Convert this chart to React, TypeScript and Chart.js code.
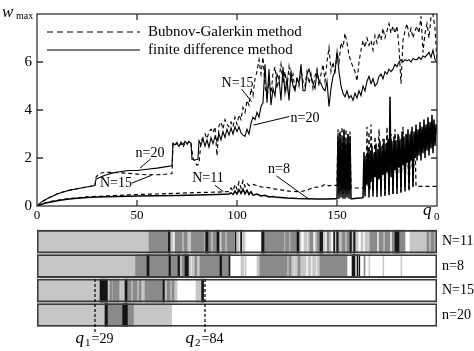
import React, { useEffect, useRef } from 'react';
import { Chart, registerables } from 'chart.js';

Chart.register(...registerables);

const SERIF = "'Liberation Serif', 'Times New Roman', Times, serif";

// ---------- main plot data ----------
const xTicks = [0, 50, 100, 150];
const yTicks = [0, 2, 4, 6];
const legendItems = ['Bubnov-Galerkin method', 'finite difference method'];

// Bubnov-Galerkin, N=15 (dashed)
const seriesN15 = [[0,0],[2,0.15],[5,0.3],[8,0.42],[10,0.5],[13,0.58],[16,0.65],[20,0.72],[24,0.78],[27,0.82],[29,0.85],[29.5,1.2],[31,1.35],[34,1.4],[38,1.4],[42,1.38],[46,1.36],[50,1.33],[55,1.3],[60,1.3],[64,1.32],[67.5,1.35],[68,2.6],[69,2.55],[70,2.65],[71,2.5],[72,2.6],[73,2.45],[74,2.62],[75,2.55],[76,2.7],[77,2.6],[78,2.0],[79,1.8],[80,1.7],[81,1.75],[82,2.7],[83,2.85],[84,3.0],[85,2.8],[86,3.1],[87,3.2],[88,3.05],[89,3.3],[90,2.1],[91,3.35],[92,3.5],[93,3.2],[94,3.6],[95,3.4],[96,3.3],[97,3.5],[98,3.3],[99,3.7],[100,3.4],[101,3.8],[102,3.6],[103,4.1],[104,3.9],[105,4.4],[106,4.2],[107,4.9],[108,4.6],[109,5.3],[110,5.6],[111,6.1],[112,5.5],[113,6.2],[114,5.0],[115,4.5],[116,5.2],[117,4.7],[118,5.5],[119,5.8],[120,4.9],[121,5.3],[122,5.9],[123,5.1],[124,5.6],[125,4.9],[126,5.8],[127,5.2],[128,5.5],[129,4.8],[130,5.4],[131,5.0],[132,5.7],[133,5.2],[134,5.0],[135,5.6],[136,5.1],[137,5.5],[138,4.9],[139,5.4],[140,5.7],[141,5.0],[142,5.5],[143,5.9],[144,5.2],[145,6.0],[146,6.6],[147,5.6],[148,6.0],[149,5.5],[150,6.4],[151,6.0],[152,6.8],[153,6.6],[154,7.2],[155,6.8],[156,6.3],[157,6.0],[158,5.8],[159,5.6],[160,5.2],[161,6.0],[162,6.5],[163,6.9],[164,6.6],[165,7.0],[166,6.7],[167,6.9],[168,6.5],[169,7.1],[170,6.8],[171,7.2],[172,6.9],[173,7.4],[174,7.0],[175,7.3],[176,7.6],[177,7.2],[178,7.5],[179,7.2],[180,7.5],[181,6.6],[182,5.1],[183,6.9],[184,7.3],[185,7.6],[186,7.1],[187,7.4],[188,7.0],[189,7.3],[190,7.5],[191,7.2],[192,7.9],[193,6.4],[194,7.2],[195,7.6],[196,7.0],[197,7.9],[198,8.0],[199,7.4],[200,6.0]];

// finite difference, n=20 (solid)
const seriesn20 = [[0,0],[2,0.15],[5,0.3],[8,0.42],[10,0.5],[13,0.58],[16,0.65],[20,0.72],[24,0.78],[27,0.82],[29,0.85],[29.5,1.12],[31,1.18],[34,1.28],[38,1.38],[42,1.44],[46,1.48],[50,1.48],[55,1.53],[60,1.58],[64,1.63],[67.5,1.68],[68,2.62],[69,2.55],[70,2.6],[71,2.48],[72,2.66],[73,2.55],[74,2.7],[75,2.6],[76,2.68],[77,2.62],[77.5,1.95],[79,1.92],[80.5,1.95],[81,2.72],[82,2.55],[83,2.8],[84,2.5],[85,2.75],[86,2.45],[87,2.85],[88,2.6],[89,2.9],[90,2.7],[91,3.0],[92,2.75],[93,3.1],[94,2.85],[95,3.2],[96,2.95],[97,3.25],[98,3.0],[99,3.3],[100,3.1],[101,3.3],[102,3.05],[103,2.95],[104,2.9],[105,3.2],[106,3.0],[107,3.45],[108,3.7],[109,3.6],[110,3.9],[111,3.7],[112,4.15],[113,4.3],[114,5.9],[115,4.3],[116,5.7],[117,4.2],[118,4.9],[119,4.6],[120,5.5],[121,5.3],[122,4.4],[123,5.8],[124,4.7],[125,5.3],[126,4.4],[127,5.6],[128,5.0],[129,4.8],[130,5.3],[131,5.1],[132,5.9],[133,4.8],[134,4.8],[135,5.5],[136,5.7],[137,5.4],[138,5.1],[139,4.9],[140,5.6],[141,5.2],[142,5.1],[143,4.9],[144,4.8],[145,5.2],[146,4.15],[147,4.9],[148,5.4],[149,5.6],[150,6.4],[151,5.6],[152,5.0],[153,4.7],[154,4.55],[155,4.8],[156,4.5],[157,4.6],[158,4.4],[159,4.7],[160,4.5],[161,4.8],[162,4.6],[163,5.0],[164,4.8],[165,5.2],[166,5.4],[167,5.1],[168,5.3],[169,5.0],[170,5.1],[171,5.4],[172,5.5],[173,5.3],[174,5.6],[175,5.5],[176,5.7],[177,5.6],[178,5.7],[179,5.9],[180,5.8],[181,6.0],[182,6.1],[183,6.0],[184,6.1],[185,6.05],[186,6.1],[187,6.0],[188,6.15],[189,6.1],[190,6.1],[191,6.2],[192,6.1],[193,6.25],[194,6.2],[195,6.3],[196,6.4],[197,6.2],[198,6.5],[199,6.1],[200,6.0]];

// Bubnov-Galerkin, N=11 (dashed)
const seriesN11 = [[0,0],[2,0.06],[5,0.15],[10,0.24],[15,0.3],[20,0.34],[25,0.38],[30,0.4],[40,0.44],[50,0.48],[60,0.5],[70,0.53],[80,0.56],[90,0.58],[96,0.6],[97,0.75],[98,0.62],[99,0.9],[100,0.7],[101,1.0],[102,0.75],[103,1.05],[104,0.8],[105,0.95],[106,0.85],[108,0.9],[110,0.85],[112,0.8],[115,0.78],[118,0.72],[122,0.67],[126,0.62],[130,0.6],[133,0.62],[136,0.7],[139,0.78],[142,0.8],[144,0.9],[146,0.84],[148,0.88],[149.5,0.85],[150,0.85],[150.5,3.2],[151,0.5],[151.5,3.0],[152,0.6],[152.5,3.3],[153,0.5],[153.5,3.1],[154,0.6],[154.5,3.2],[155,0.5],[155.5,3.0],[156,0.6],[156.5,3.1],[157,0.75],[157.5,0.75],[164,0.75],[164.5,0.75],[165,3.3],[165.5,0.8],[166,3.1],[166.5,0.7],[167,3.4],[168,0.6],[169,2.9],[170,0.6],[171,3.2],[172,0.7],[173,2.8],[174,0.5],[175,3.3],[176,0.6],[177,3.0],[178,0.5],[179,3.2],[180,0.7],[181,2.9],[182,0.6],[183,3.3],[184,0.8],[185,3.0],[186,0.6],[187,3.1],[188,0.8],[189,2.9],[189.5,0.82],[200,0.82]];

// finite difference, n=8 (solid)
const seriesn8 = [[0,0],[2,0.06],[5,0.14],[10,0.22],[15,0.28],[20,0.32],[25,0.35],[30,0.37],[40,0.4],[50,0.42],[60,0.43],[70,0.44],[80,0.46],[90,0.48],[96,0.5],[97,0.55],[98,0.48],[99,0.62],[100,0.5],[101,0.68],[102,0.52],[103,0.7],[104,0.5],[105,0.66],[106,0.48],[107,0.6],[108,0.45],[110,0.5],[112,0.42],[114,0.45],[116,0.38],[118,0.4],[120,0.36],[125,0.33],[130,0.31],[135,0.3],[140,0.29],[145,0.29],[149.5,0.3],[150,0.3],[150.5,2.9],[151,0.3],[151.5,3.1],[152,0.35],[152.5,2.8],[153,0.3],[153.5,3.2],[154,0.3],[154.5,2.7],[155,0.35],[155.5,3.0],[156,0.3],[156.5,2.9],[157,0.3],[157.5,0.3],[160,0.32],[162.5,0.34],[163,0.35],[163.5,2.25],[164,0.4],[164.5,2.1],[165,0.9],[165.5,2.4],[166,0.35],[166.5,2.3],[167,1.0],[167.5,2.5],[168,0.4],[168.5,2.2],[169,1.2],[169.5,2.6],[170,0.38],[170.5,2.4],[171,1.1],[171.5,2.7],[172,0.4],[172.5,2.5],[173,1.3],[173.5,2.8],[174,0.42],[174.5,2.6],[175,1.4],[175.5,2.8],[176,0.45],[176.5,4.55],[177,1.2],[177.5,2.7],[178,0.5],[178.5,2.9],[179,1.5],[179.5,2.75],[180,0.5],[180.5,3.0],[181,1.6],[181.5,2.8],[182,0.55],[182.5,3.1],[183,1.7],[183.5,2.9],[184,0.6],[184.5,3.0],[185,1.8],[185.5,3.2],[186,0.7],[186.5,3.0],[187,1.9],[187.5,3.3],[188,0.8],[188.5,3.1],[189,2.0],[189.5,3.4],[190,1.9],[190.5,3.2],[191,2.1],[191.5,3.5],[192,1.9],[192.5,3.3],[193,2.2],[193.5,3.6],[194,2.0],[194.5,3.4],[195,2.3],[195.5,3.7],[196,2.1],[196.5,3.5],[197,2.4],[197.5,3.8],[198,2.2],[198.5,3.6],[199,2.5],[199.5,3.4],[200,3.0]];

// curve labels (data coordinates) and leader lines [q1, w1, q2, w2]
const labelTexts = ['n=20', 'N=15', 'N=11', 'n=8', 'N=15', 'n=20'];
const labelQ = [56.5, 39.5, 85.5, 121, 100.3, 134];
const labelW = [2.2, 0.94, 1.14, 1.51, 5.12, 3.65];
const leaders = [[56.8,1.96,51.5,1.58],[47.3,0.95,57.3,1.28],[89,0.86,93.2,0.6],[119.8,1.25,135.7,0.3],[102.3,4.87,107.3,4.35],[126.2,3.73,108.2,3.37]];

// ---------- strip (regime map) data ----------
const rows = ['N=11', 'n=8', 'N=15', 'n=20'];
const qMarks = [29, 84];
const qMarkNames = ['=29', '=84'];
const qMarkSubs = ['1', '2'];

const N11Light = [[0,56],[66.5,68],[72.5,73.5],[75,76.5],[83.5,84.3],[87,88],[91,92.5],[94,95],[100,101],[103,104],[123.5,124.3],[126,126.8],[131,132],[133.5,135],[135.5,136.5],[139,140],[143,144],[146,147],[148.8,149.5],[151,152.5],[154,155],[157.2,158],[159,160.5],[162,163],[164,166.5],[173,174],[186.5,195],[196,197],[198.5,200]];
const N11Mid = [[56,65.7],[69,72.5],[73.5,75],[77,83.5],[85.5,87],[88,90],[92.5,94],[95,98.5],[113.5,123.5],[124.3,126],[126.8,130],[136.5,138],[140,141.5],[145,146],[150.5,151],[152.5,154],[155,156.5],[166.5,170],[171,173],[174,176.5],[177.5,179],[181,184],[195,196],[197,198.5]];
const N11Dark = [[65.7,66.5],[84.3,85.5],[90,91],[99,99.5],[101.8,102.4],[112.3,113.5],[130,131],[141.5,142.8],[148.3,148.8],[149.8,150.5],[156.5,157.2],[158.3,159],[179,181]];

const n8Light = [[0,49.3],[71.3,72.5],[75.7,77],[77.5,79],[79.8,81.5],[102,103.3],[104,104.5],[110,111.5],[125,126],[127,128.5],[129,130.5],[131.5,134.5],[135.5,137],[137.8,139.5],[140.2,141.5],[166,166.4],[173,173.4],[182,182.4]];
const n8Mid = [[49.3,55],[56,66],[66.7,70.5],[72.5,74],[79,79.8],[81.5,91.5],[92.3,96],[111.5,125],[126,127],[130.5,131.5],[141.5,155],[163.5,164]];
const n8Dark = [[55,56],[66,66.7],[70.5,71.3],[74,75.7],[91.5,92.3],[96,96.5],[157.5,159],[160,160.4],[161,161.4]];

const N15Light = [[0,31.5],[35.2,36.5],[37.5,38],[41,44],[47,48],[50,51],[52,54],[63.7,65],[66.5,67.5],[68.5,70],[79.5,82.3]];
const N15Mid = [[36.5,37.5],[38,41],[45,47],[48,50],[51,52],[54,63],[65,66.5],[67.5,68.5]];
const N15Dark = [[31.5,35.2],[44,45],[63,63.7],[82.3,83.3]];

const n20Light = [[0,34],[48.2,67.3]];
const n20Mid = [[35.2,42.8],[45.2,48.2]];
const n20Dark = [[34,35.2],[42.8,45.2]];

const BAR = 23;

function toXY(arr: number[][]) {
  return arr.map(([x, y]) => ({ x, y }));
}
function segs(groups: number[][][]) {
  const out: any[] = [];
  groups.forEach((g, i) => g.forEach(([a, b]) => out.push({ y: rows[i], x: [a, b] })));
  return out;
}

const mainDeco = {
  id: 'mainDeco',
  afterDatasetsDraw(chart: any) {
    const { ctx, chartArea: a, scales } = chart;
    const X = (q: number) => scales.x.getPixelForValue(q);
    const Y = (w: number) => scales.y.getPixelForValue(w);
    ctx.save();
    ctx.setLineDash([]);
    ctx.lineWidth = 1.3;
    ctx.strokeStyle = '#333';
    ctx.strokeRect(a.left, a.top, a.right - a.left, a.bottom - a.top);
    ctx.beginPath();
    xTicks.forEach((v) => {
      if (v === 0) return;
      const p = X(v);
      ctx.moveTo(p, a.bottom); ctx.lineTo(p, a.bottom - 6);
      ctx.moveTo(p, a.top); ctx.lineTo(p, a.top + 6);
    });
    yTicks.forEach((v) => {
      if (v === 0) return;
      const p = Y(v);
      ctx.moveTo(a.left, p); ctx.lineTo(a.left + 6, p);
      ctx.moveTo(a.right, p); ctx.lineTo(a.right - 6, p);
    });
    ctx.stroke();

    // legend
    ctx.strokeStyle = '#000';
    ctx.fillStyle = '#000';
    legendItems.forEach((t, i) => {
      const ly = a.top + 18 + i * 18;
      ctx.lineWidth = 1.2;
      ctx.setLineDash(i === 0 ? [6, 4] : []);
      ctx.beginPath(); ctx.moveTo(a.left + 10, ly); ctx.lineTo(a.left + 103, ly); ctx.stroke();
      ctx.setLineDash([]);
      ctx.font = `15px ${SERIF}`;
      ctx.textAlign = 'left';
      ctx.textBaseline = 'middle';
      ctx.fillText(t, a.left + 111, ly);
    });

    // leader lines and curve labels
    ctx.lineWidth = 1;
    ctx.beginPath();
    leaders.forEach(([q1, w1, q2, w2]) => { ctx.moveTo(X(q1), Y(w1)); ctx.lineTo(X(q2), Y(w2)); });
    ctx.stroke();
    ctx.font = `14px ${SERIF}`;
    ctx.textAlign = 'center';
    ctx.textBaseline = 'middle';
    labelTexts.forEach((t, i) => ctx.fillText(t, X(labelQ[i]), Y(labelW[i])));

    // axis names
    ctx.textAlign = 'left';
    ctx.textBaseline = 'alphabetic';
    ctx.font = `italic 17px ${SERIF}`;
    ctx.fillText('w', 2, 17);
    ctx.font = `10px ${SERIF}`;
    ctx.fillText('max', 16, 19);
    ctx.font = `italic 17px ${SERIF}`;
    ctx.fillText('q', a.right - 14, a.bottom + 9);
    ctx.font = `11px ${SERIF}`;
    ctx.fillText('0', a.right - 3, a.bottom + 14);
    ctx.restore();
  },
};

const stripDeco = {
  id: 'stripDeco',
  afterDraw(chart: any) {
    const { ctx, chartArea: a, scales } = chart;
    const top = scales.y.getPixelForValue(2) - BAR / 2;
    ctx.save();
    ctx.strokeStyle = '#000';
    ctx.fillStyle = '#000';
    ctx.lineWidth = 1.2;
    qMarks.forEach((q, i) => {
      const px = scales.x.getPixelForValue(q);
      ctx.setLineDash([3, 2]);
      ctx.beginPath(); ctx.moveTo(px, top); ctx.lineTo(px, a.bottom + 6); ctx.stroke();
      ctx.setLineDash([]);
      const by = a.bottom + 16;
      ctx.textAlign = 'left';
      ctx.textBaseline = 'alphabetic';
      ctx.font = `italic 17px ${SERIF}`;
      ctx.fillText('q', px - 19.5, by);
      ctx.font = `11px ${SERIF}`;
      ctx.fillText(qMarkSubs[i], px - 10, by + 3);
      ctx.font = `14px ${SERIF}`;
      ctx.fillText(qMarkNames[i], px - 3.5, by);
    });
    ctx.restore();
  },
};

export default function App() {
  const mainRef = useRef<HTMLCanvasElement>(null);
  const stripRef = useRef<HTMLCanvasElement>(null);

  useEffect(() => {
    const lineDs = (arr: number[][], dash: number[], width: number) => ({
      data: toXY(arr),
      borderColor: '#000',
      borderWidth: width,
      borderDash: dash,
      pointRadius: 0,
      tension: 0,
      fill: false,
    });

    const main = new Chart(mainRef.current as HTMLCanvasElement, {
      type: 'line',
      data: {
        datasets: [
          lineDs(seriesN15, [4, 3], 1.1),
          lineDs(seriesn20, [], 1.1),
          lineDs(seriesN11, [4, 3], 1.2),
          lineDs(seriesn8, [], 1.5),
        ] as any,
      },
      options: {
        animation: false,
        responsive: false,
        devicePixelRatio: 1,
        layout: { padding: { top: 2, right: 37, left: 0, bottom: 0 } },
        plugins: { legend: { display: false }, tooltip: { enabled: false } },
        scales: {
          x: {
            type: 'linear', min: 0, max: 200,
            grid: { display: false, drawTicks: false },
            border: { display: false },
            ticks: { padding: 2, color: '#000', font: { family: SERIF, size: 13 }, maxRotation: 0 },
            afterBuildTicks: (s: any) => { s.ticks = xTicks.map((v) => ({ value: v })); },
            afterFit: (s: any) => { s.height = 16; },
          },
          y: {
            type: 'linear', min: 0, max: 8,
            grid: { display: false, drawTicks: false },
            border: { display: false },
            ticks: { padding: 5, color: '#000', font: { family: SERIF, size: 15 } },
            afterBuildTicks: (s: any) => { s.ticks = yTicks.map((v) => ({ value: v })); },
            afterFit: (s: any) => { s.width = 37; },
          },
        },
      } as any,
      plugins: [mainDeco],
    });

    const barDs = (data: any[], color: string) => ({
      data,
      backgroundColor: color,
      borderWidth: 0,
      barThickness: BAR,
      grouped: false,
    });

    const strip = new Chart(stripRef.current as HTMLCanvasElement, {
      type: 'bar',
      data: {
        labels: rows,
        datasets: [
          {
            data: rows.map((r) => ({ y: r, x: [0, 200] })),
            backgroundColor: 'rgba(0,0,0,0)',
            borderColor: '#3a3a3a',
            borderWidth: 1.2,
            borderSkipped: false,
            barThickness: BAR,
            grouped: false,
          },
          barDs(segs([N11Dark, n8Dark, N15Dark, n20Dark]), '#141414'),
          barDs(segs([N11Mid, n8Mid, N15Mid, n20Mid]), '#8a8a8a'),
          barDs(segs([N11Light, n8Light, N15Light, n20Light]), '#c6c6c6'),
        ] as any,
      },
      options: {
        indexAxis: 'y',
        animation: false,
        responsive: false,
        devicePixelRatio: 1,
        layout: { padding: { left: 37, top: 5.25, bottom: 23.75, right: 0 } },
        plugins: { legend: { display: false }, tooltip: { enabled: false } },
        scales: {
          x: { type: 'linear', min: 0, max: 200, display: false },
          y: {
            type: 'category', position: 'right', offset: true,
            grid: { display: false, drawTicks: false },
            border: { display: false },
            ticks: { padding: 5, color: '#000', font: { family: SERIF, size: 14 } },
            afterFit: (s: any) => { s.width = 37; },
          },
        },
      } as any,
      plugins: [stripDeco],
    });

    return () => { main.destroy(); strip.destroy(); };
  }, []);

  return (
    <div style={{ position: 'fixed', left: 0, top: 0, width: 474, height: 351, background: '#fff' }}>
      <canvas ref={mainRef} width={474} height={222} style={{ position: 'absolute', left: 0, top: 0, width: 474, height: 222 }} />
      <canvas ref={stripRef} width={474} height={135} style={{ position: 'absolute', left: 0, top: 216, width: 474, height: 135 }} />
    </div>
  );
}
